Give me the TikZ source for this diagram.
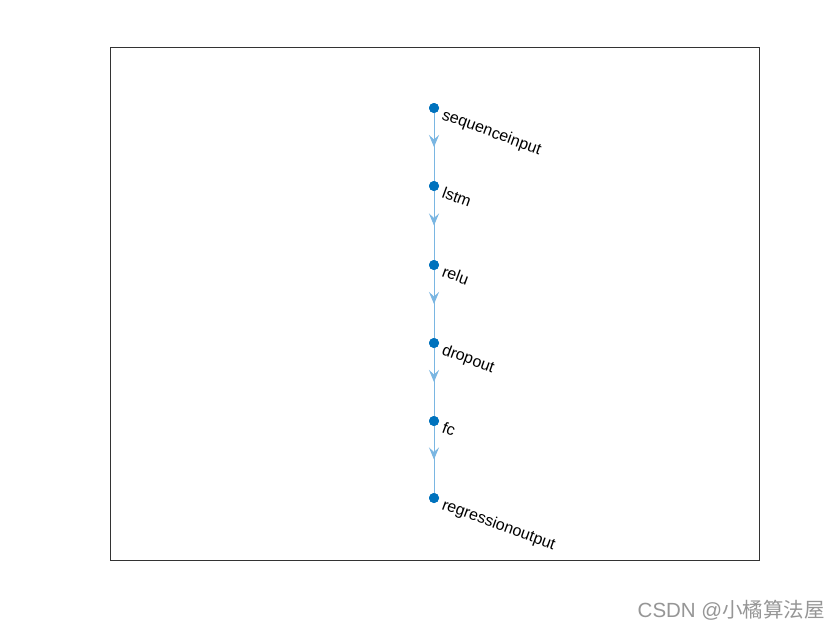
\documentclass[tikz,border=0pt]{standalone}
\usepackage{fontspec}
\setmainfont{Liberation Sans}
\newfontfamily\cjkfont{Noto Sans CJK SC}
\usetikzlibrary{arrows.meta,decorations.markings}
\definecolor{nodeblue}{RGB}{0,114,189}
\definecolor{edgeblue}{RGB}{122,182,226}
\definecolor{wmgray}{RGB}{150,150,150}
\tikzset{
  vtx/.style={circle,fill=nodeblue,inner sep=0pt,minimum size=10pt},
  conn/.style={draw=edgeblue,line width=0.9pt,
    postaction={decorate},
    decoration={markings,mark=at position 0.5 with {\arrow[edgeblue]{Stealth[length=12pt,width=10pt,inset=4.5pt]}}}},
  lbl/.style={anchor=base west,rotate=-20,inner sep=0pt,font=\fontsize{16}{18}\selectfont},
}
\begin{document}
\begin{tikzpicture}[x=1pt,y=-1pt]
\useasboundingbox (0,0) rectangle (840,630);
\fill[white] (0,0) rectangle (840,630);
\draw[black!80,line width=0.6pt] (110,47) rectangle (759,560);
\node[vtx] (n1) at (434,108) {};
\node[vtx] (n2) at (434,186) {};
\node[vtx] (n3) at (434,265) {};
\node[vtx] (n4) at (434,343) {};
\node[vtx] (n5) at (434,421) {};
\node[vtx] (n6) at (434,498) {};
\path[conn] (n1.center) -- (n2.center);
\path[conn] (n2.center) -- (n3.center);
\path[conn] (n3.center) -- (n4.center);
\path[conn] (n4.center) -- (n5.center);
\path[conn] (n5.center) -- (n6.center);
\node[vtx] at (n1) {};
\node[vtx] at (n2) {};
\node[vtx] at (n3) {};
\node[vtx] at (n4) {};
\node[vtx] at (n5) {};
\node[vtx] at (n6) {};
\node[lbl] (l1) at ([shift={(7,11)}]n1.center) {sequenceinput};
\node[lbl] (l2) at ([shift={(7,11)}]n2.center) {lstm};
\node[lbl] (l3) at ([shift={(7,11)}]n3.center) {relu};
\node[lbl] (l4) at ([shift={(7,11)}]n4.center) {dropout};
\node[lbl] (l5) at ([shift={(7,11)}]n5.center) {fc};
\node[lbl] (l6) at ([shift={(7,11)}]n6.center) {regressionoutput};
\node[anchor=base east,inner sep=0pt,text=wmgray,font=\fontsize{20.5}{22}\selectfont] (wm) at (825,617) {CSDN @\cjkfont 小橘算法屋};
\end{tikzpicture}
\end{document}
